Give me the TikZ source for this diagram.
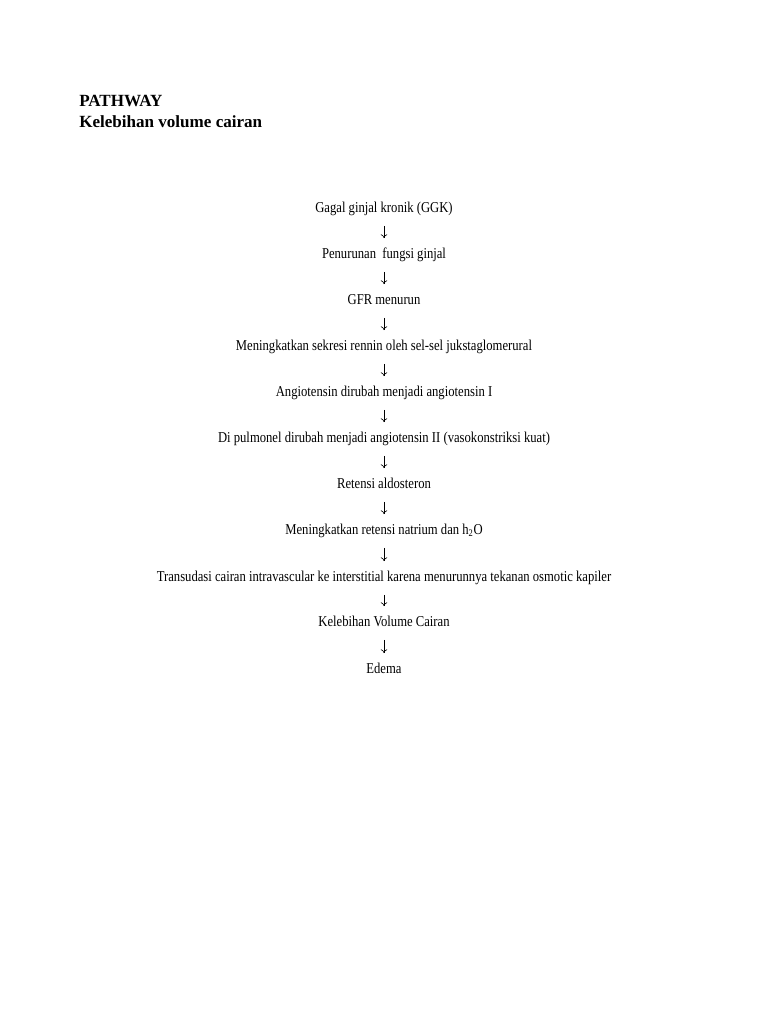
\documentclass[tikz,border=0pt]{standalone}
\usepackage{fontspec}
\setmainfont{Liberation Serif}
\newfontfamily\sempit[FakeStretch=0.84]{Liberation Serif}
\usepackage{tikz}
\usetikzlibrary{arrows.meta}

\begin{document}
\begin{tikzpicture}[x=0.797pt,y=-0.797pt,
    judul/.style={anchor=base west,inner sep=0pt,font=\bfseries\fontsize{13.6}{16}\selectfont},
    langkah/.style={inner sep=0pt,text height=8pt,text depth=2.5pt,font=\sempit\fontsize{12}{14}\selectfont},
    panah/.style={-{To[length=3pt,width=5pt]},line width=0.5pt,shorten >=8pt,shorten <=8pt}]
			\fill[white] (0,0) rectangle (768,1024);
			\node[judul] (judul) at (79,106) {PATHWAY};
			\node[judul] (subjudul) at (79,127) {Kelebihan volume cairan};
			\node[langkah] (ggk) at (384,209) {Gagal ginjal kronik (GGK)};
			\node[langkah] (fungsi) at (384,255) {Penurunan\ \ fungsi ginjal};
			\node[langkah] (gfr) at (384,301) {GFR menurun};
			\node[langkah] (renin) at (384,347) {Meningkatkan sekresi rennin oleh sel-sel jukstaglomerural};
			\node[langkah] (angI) at (384,393) {Angiotensin dirubah menjadi angiotensin I};
			\node[langkah] (angII) at (384,439) {Di pulmonel dirubah menjadi angiotensin II (vasokonstriksi kuat)};
			\node[langkah] (aldo) at (384,485) {Retensi aldosteron};
			\node[langkah] (natrium) at (384,531) {Meningkatkan retensi natrium dan h\textsubscript{2}O};
			\node[langkah] (transudasi) at (384,578) {Transudasi cairan intravascular ke interstitial karena menurunnya tekanan osmotic kapiler};
			\node[langkah] (kvc) at (384,623) {Kelebihan Volume Cairan};
			\node[langkah] (edema) at (384,670) {Edema};
			\foreach \a/\b in {ggk/fungsi,fungsi/gfr,gfr/renin,renin/angI,angI/angII,angII/aldo,aldo/natrium,natrium/transudasi,transudasi/kvc,kvc/edema}
				\draw[panah] (\a) -- (\b);
		\end{tikzpicture}
\end{document}
